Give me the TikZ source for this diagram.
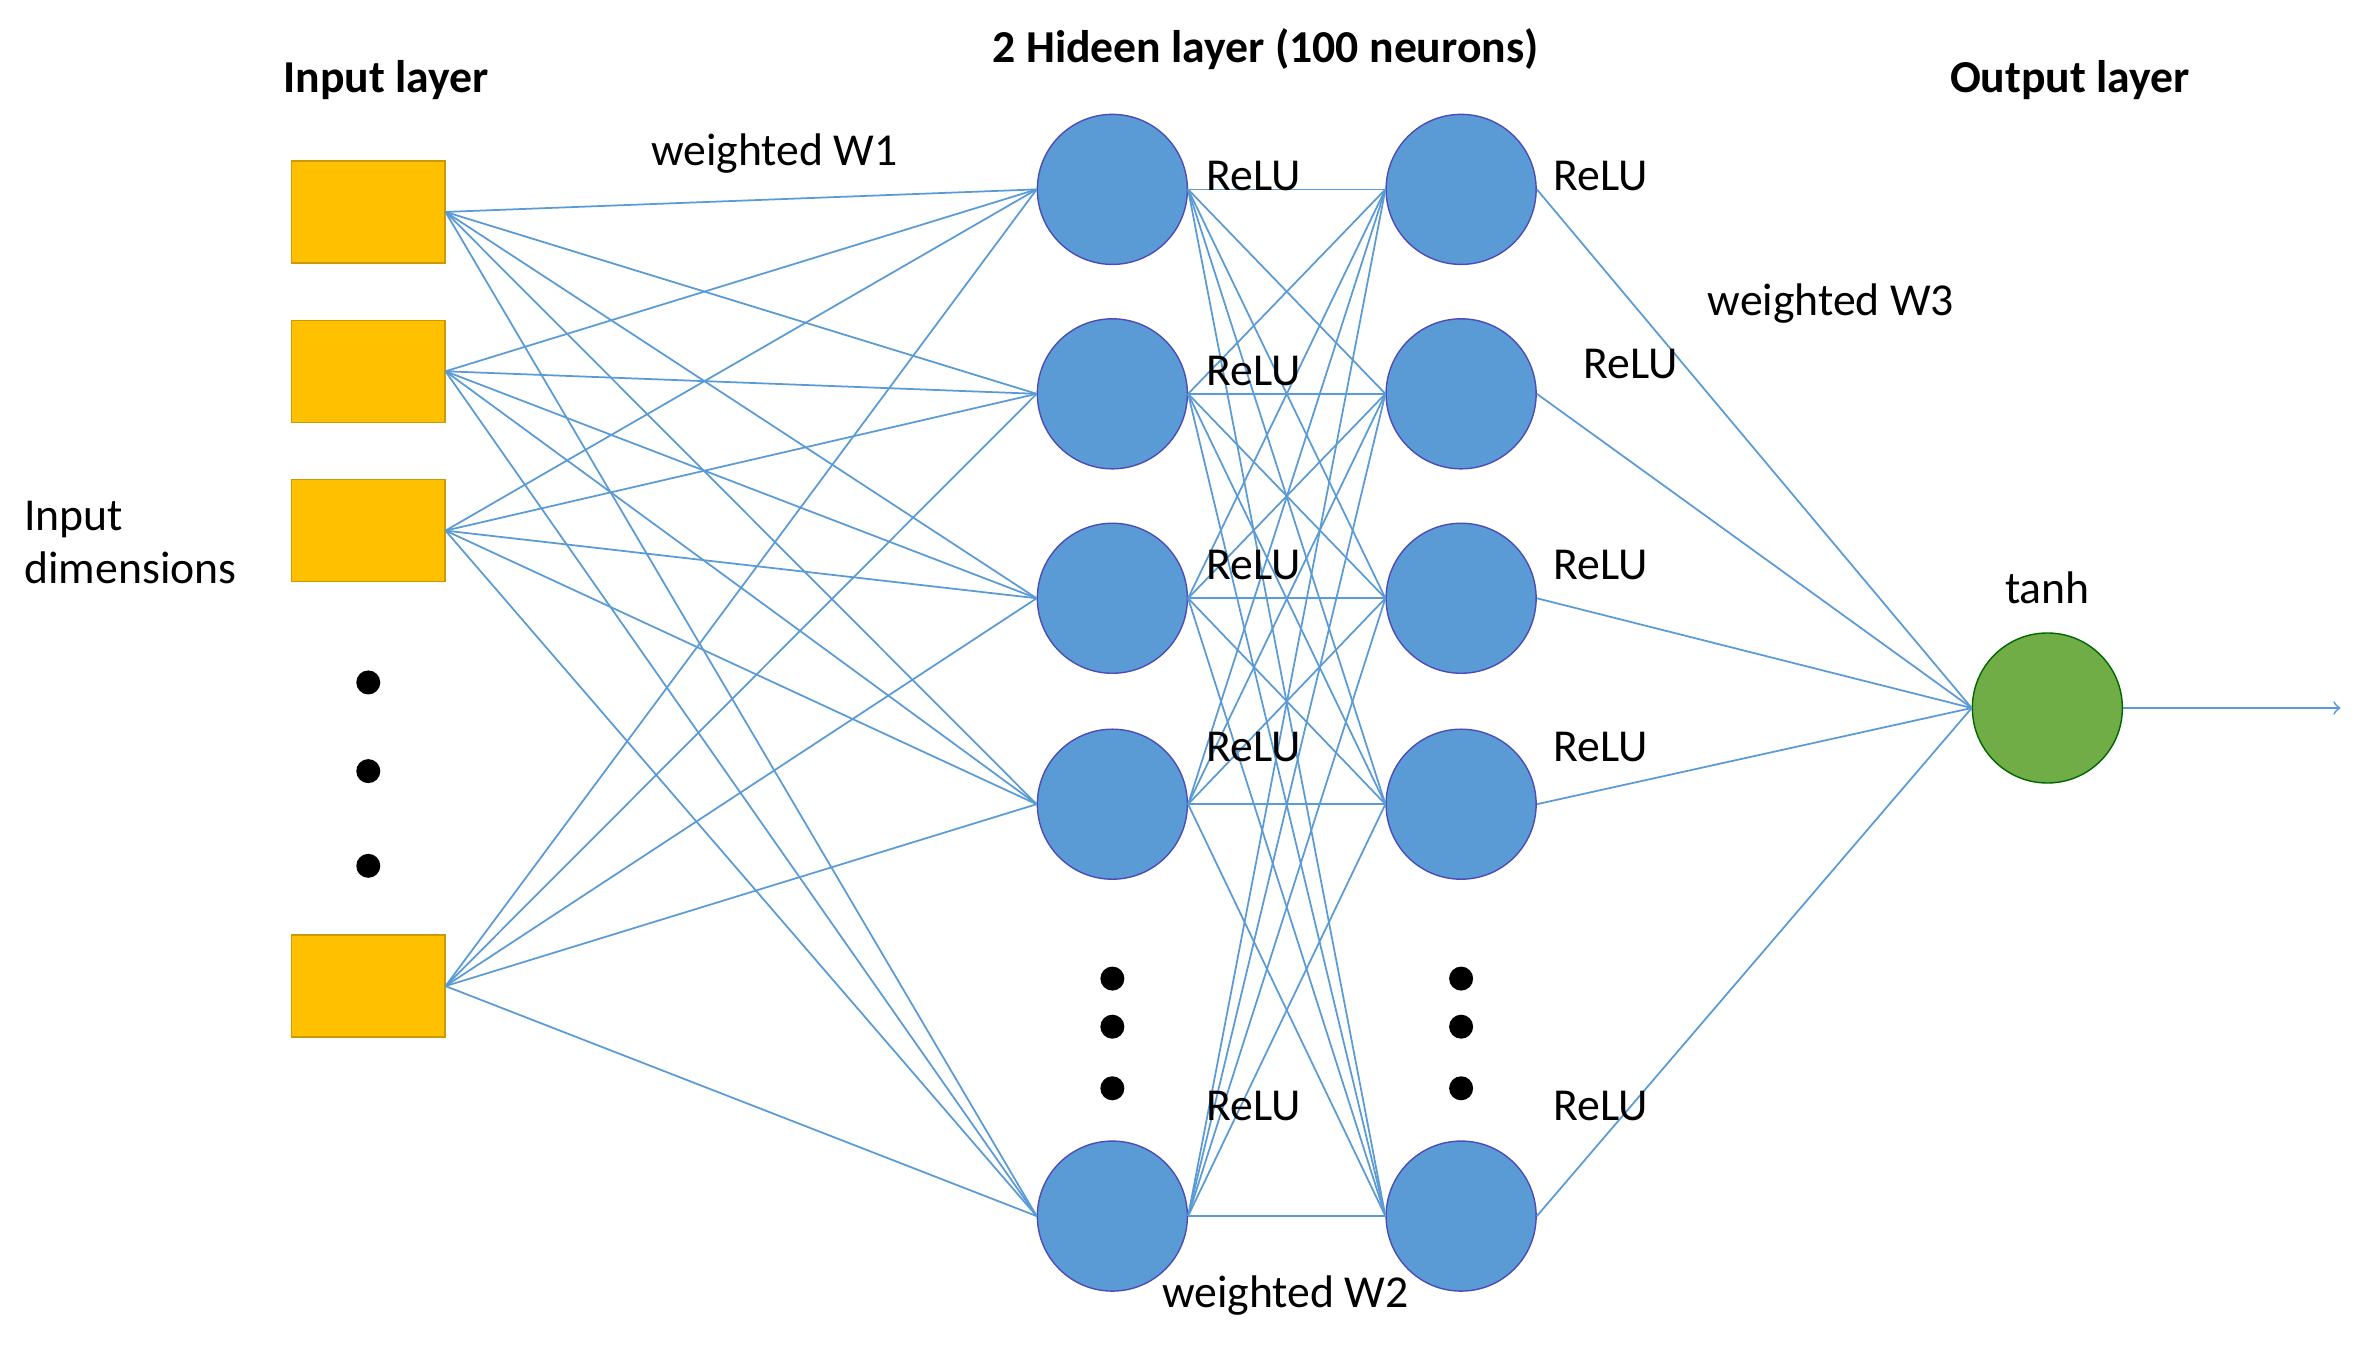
\documentclass[tikz,border=0pt]{standalone}
\usepackage{fontspec}
\setmainfont{Carlito}
\begin{document}
\begin{tikzpicture}[x=0.01503cm,y=-0.01503cm,
  every node/.style={font=\fontsize{13}{15}\selectfont},
  inp/.style={draw=orange!70!black,fill=orange!60!yellow!90!red,minimum width=1.53cm,minimum height=1.02cm,inner sep=0pt},
  hid/.style={circle,draw=blue!60!black!70,fill=hcol,minimum size=1.5cm,inner sep=0pt},
  outn/.style={circle,draw=green!40!black,fill=gcol,minimum size=1.5cm,inner sep=0pt},
  conn/.style={draw=lcol,line width=0.5pt},
  dot/.style={circle,fill=black,inner sep=0pt,minimum size=0.24cm},
  bf/.style={font=\fontsize{13}{15}\selectfont\bfseries}]
\definecolor{hcol}{HTML}{5B9BD5}
\definecolor{gcol}{HTML}{70AD47}
\definecolor{lcol}{HTML}{5B9BD5}
\definecolor{icol}{HTML}{FFC000}
\tikzset{inp/.append style={fill=icol,draw=icol!80!black}}
\useasboundingbox (0,0) rectangle (1568,898);
% input
\foreach \i/\y in {1/141,2/247,3/353,4/656} \node[inp] (i\i) at (245,\y) {};
\foreach \k/\y in {1/454,2/513,3/576} \node[dot] (di\k) at (245,\y) {};
\foreach \i/\y in {1/126,2/262,3/398,4/535,5/809} {
  \node[hid] (a\i) at (740,\y) {};
  \node[hid] (b\i) at (972,\y) {};
}
\foreach \k/\y in {1/651,2/683,3/724} {\node[dot] (da\k) at (740,\y) {}; \node[dot] (db\k) at (972,\y) {};}
\node[outn] (o) at (1362,471) {};
\coordinate (oe) at (1557,471);
\begin{scope}[on background layer/.try]
\foreach \i in {1,...,4} \foreach \j in {1,...,5} \draw[conn] (i\i.east) -- (a\j.west);
\foreach \i in {1,...,5} \foreach \j in {1,...,5} \draw[conn] (a\i.east) -- (b\j.west);
\foreach \j in {1,...,5} \draw[conn] (b\j.east) -- (o.west);
\end{scope}
\draw[conn,->] (o.east) -- (oe);
% labels
\node[bf] (t1) at (257,53) {Input layer};
\node[bf] (t2) at (842,33) {2 Hideen layer (100 neurons)};
\node[bf] (t3) at (1377,53) {Output layer};
\node (w1) at (515,102) {weighted W1};
\node (w2) at (855,862) {weighted W2};
\node (w3) at (1218,202) {weighted W3};
\node[align=left,anchor=west] (id) at (8,361) {Input\\dimensions};
\node (th) at (1362,391) {tanh};
\foreach \k/\y in {1/117,2/247,3/376,4/497,5/736} \node (ra\k) at (834,\y) {ReLU};
\foreach \k/\x/\y in {1/1065/117,2/1085/242,3/1065/376,4/1065/497,5/1065/736} \node (rb\k) at (\x,\y) {ReLU};
\end{tikzpicture}
\end{document}
